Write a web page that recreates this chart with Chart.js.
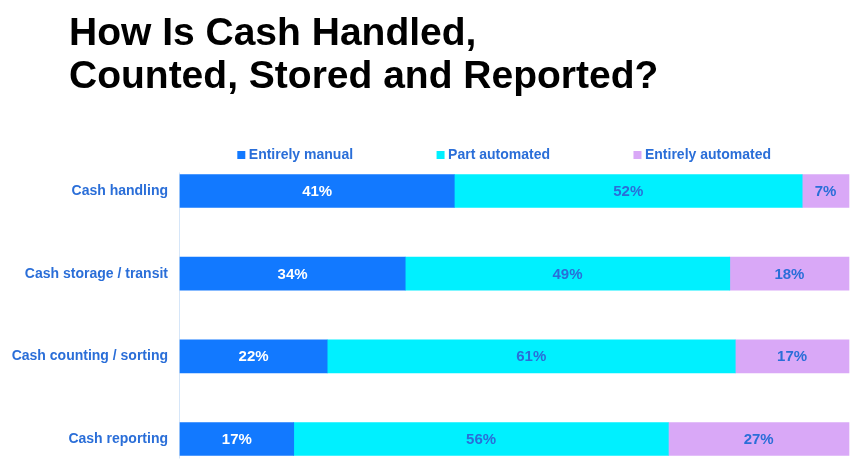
<!DOCTYPE html>
<html>
<head>
<meta charset="utf-8">
<script src="https://cdn.jsdelivr.net/npm/chart.js@4/dist/chart.umd.min.js"></script>
<style>
  html, body { margin: 0; padding: 0; background: #ffffff; }
  #wrap { width: 858px; height: 463px; position: relative; }
</style>
</head>
<body>
<div id="wrap"><canvas id="c"></canvas></div>
<script>
// ---- data ----
const titleLines = ['How Is Cash Handled,', 'Counted, Stored and Reported?'];
const categories = ['Cash handling', 'Cash storage / transit', 'Cash counting / sorting', 'Cash reporting'];
const seriesNames = ['Entirely manual', 'Part automated', 'Entirely automated'];
const entirelyManual = [41, 34, 22, 17];
const partAutomated = [52, 49, 61, 56];
const entirelyAutomated = [7, 18, 17, 27];

// ---- styles ----
const FONT = '"Liberation Sans", Arial, Helvetica, sans-serif';
const BLUE_TEXT = '#2A6ED8';
const seriesColors = ['#1279FF', '#00F0FF', '#D9A8F7'];
const valueColors = ['#FFFFFF', '#2A6ED8', '#2A6ED8'];

// 100% stacked: each bar row is scaled to its own total
const seriesValues = [entirelyManual, partAutomated, entirelyAutomated];
const totals = categories.map((_, i) => seriesValues.reduce((s, arr) => s + arr[i], 0));
const shares = seriesValues.map(arr => arr.map((v, i) => v / totals[i] * 100));

const datasets = seriesNames.map((name, k) => ({
  label: name,
  data: shares[k],
  rawValues: seriesValues[k],
  valueColor: valueColors[k],
  backgroundColor: seriesColors[k],
  borderWidth: 0,
  barThickness: 33,
  clip: false
}));

const valueLabels = {
  id: 'valueLabels',
  afterDatasetsDraw(chart) {
    const ctx = chart.ctx;
    ctx.save();
    ctx.font = 'bold 15px ' + FONT;
    ctx.textAlign = 'center';
    ctx.textBaseline = 'middle';
    chart.data.datasets.forEach((ds, di) => {
      const meta = chart.getDatasetMeta(di);
      meta.data.forEach((bar, i) => {
        ctx.fillStyle = ds.valueColor;
        ctx.fillText(ds.rawValues[i] + '%', (bar.x + bar.base) / 2, bar.y + 1);
      });
    });
    ctx.restore();
  }
};

const axisLine = {
  id: 'axisLine',
  beforeDatasetsDraw(chart) {
    const meta = chart.getDatasetMeta(0);
    const first = meta.data[0];
    const last = meta.data[meta.data.length - 1];
    const ctx = chart.ctx;
    const x = chart.chartArea.left - 0.5;
    ctx.save();
    ctx.strokeStyle = '#D6E6F8';
    ctx.lineWidth = 1;
    ctx.beginPath();
    ctx.moveTo(x, first.y - first.height / 2 - 2);
    ctx.lineTo(x, last.y + last.height / 2 + 3);
    ctx.stroke();
    ctx.restore();
  }
};

// let the category labels use the space left of the title indent,
// and let the legend row run to the right edge of the canvas
const layoutTweaks = {
  id: 'layoutTweaks',
  afterLayout(chart) {
    const y = chart.scales.y;
    y.left = 0;
    y.width = y.right - y.left;
    const lg = chart.legend;
    if (lg) {
      lg.right = chart.width;
      lg.width = lg.right - lg.left;
    }
  }
};

Chart.defaults.font.family = FONT;

new Chart(document.getElementById('c'), {
  type: 'bar',
  data: { labels: categories, datasets },
  plugins: [layoutTweaks, axisLine, valueLabels],
  options: {
    indexAxis: 'y',
    responsive: true,
    maintainAspectRatio: false,
    animation: false,
    layout: { padding: { left: 69, right: 9, top: 0, bottom: 24 } },
    plugins: {
      title: {
        display: true,
        text: titleLines,
        align: 'start',
        color: '#000000',
        font: { size: 39, weight: 'bold', family: FONT, lineHeight: 1.1154 },
        padding: { top: 12, bottom: -38 }
      },
      legend: {
        display: true,
        position: 'top',
        align: 'end',
        labels: {
          usePointStyle: true,
          pointStyle: 'rect',
          boxWidth: 1,
          boxHeight: 8,
          padding: 87,
          color: BLUE_TEXT,
          font: { size: 14, weight: 'bold', family: FONT }
        }
      },
      tooltip: { enabled: false }
    },
    scales: {
      x: {
        stacked: true,
        min: 0,
        max: 100,
        position: 'top',
        display: true,
        grid: { display: false, drawTicks: false },
        border: { display: false },
        ticks: { display: false },
        afterFit(scale) { scale.height = 19; }
      },
      y: {
        stacked: true,
        offset: false,
        grid: { display: false, drawTicks: false },
        border: { display: false },
        ticks: {
          padding: 12,
          color: BLUE_TEXT,
          font: { size: 14, weight: 'bold', family: FONT }
        },
        afterFit(scale) { scale.width = 111; }
      }
    }
  }
});
</script>
</body>
</html>
